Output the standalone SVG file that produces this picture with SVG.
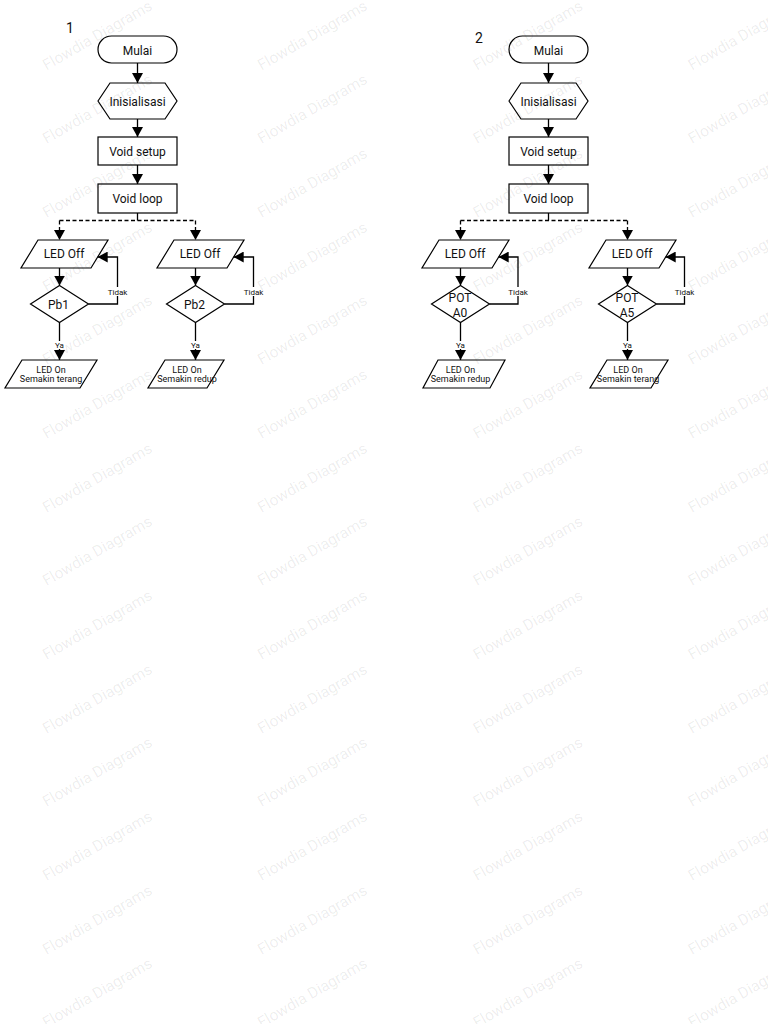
<svg xmlns="http://www.w3.org/2000/svg" width="768" height="1024" viewBox="0 0 768 1024">
<defs>
<style>
.s{fill:#fff;stroke:#000;stroke-width:1.2}
.c{fill:none;stroke:#000;stroke-width:1.3}
.d{stroke-dasharray:4 2.5}
.t{font-family:Roboto,"Liberation Sans",sans-serif;font-size:12px;fill:#111;text-anchor:middle}
.sm{font-size:9px}
.xs{font-size:8px}
.num{font-family:Roboto,"Liberation Sans",sans-serif;font-size:14px;fill:#111}
.lb{fill:#fff}
.wm{font-family:Roboto,"Liberation Sans",sans-serif;font-size:15.5px;fill:#000;fill-opacity:0.08;text-anchor:middle}
</style>
<marker id="ah" viewBox="0 0 10 11" refX="10" refY="5.5" markerWidth="10" markerHeight="11" markerUnits="userSpaceOnUse" orient="auto">
<path d="M0,0 L10,5.5 L0,11 z" fill="#000"/>
</marker>
</defs>
<rect width="768" height="1024" fill="#fff"/>

<text class="num" x="66" y="33">1</text>
<text class="num" x="475" y="43">2</text>

<!-- Diagram 1 nodes -->
<g id="d1-mulai"><rect class="s" x="98" y="36" width="79" height="27" rx="13.5"/><text class="t" x="137.5" y="54.5">Mulai</text></g>
<g id="d1-init"><polygon class="s" points="98,101 110,83 165,83 177,101 165,119 110,119"/><text class="t" x="137.5" y="106">Inisialisasi</text></g>
<g id="d1-setup"><rect class="s" x="98" y="137" width="79" height="28"/><text class="t" x="137.5" y="155.5">Void setup</text></g>
<g id="d1-loop"><rect class="s" x="98" y="184" width="79" height="29"/><text class="t" x="137.5" y="202.5">Void loop</text></g>
<g id="d1-ledoff1"><polygon class="s" points="38,240 108,240 91,268 21,268"/><text class="t" x="64" y="258.3">LED Off</text></g>
<g id="d1-pb1"><polygon class="s" points="59.5,285.5 88.5,304 59.5,322.5 30.5,304"/><text class="t" x="58.5" y="308.8">Pb1</text></g>
<g id="d1-ledon1"><polygon class="s" points="22,360 97,360 80,388 5,388"/><text class="t sm" x="51" y="372.5">LED On</text><text class="t sm" x="51" y="381.5">Semakin terang</text></g>
<g id="d1-ledoff2"><polygon class="s" points="174,240 244,240 227,268 157,268"/><text class="t" x="200" y="258.3">LED Off</text></g>
<g id="d1-pb2"><polygon class="s" points="195.5,285.5 224.5,304 195.5,322.5 166.5,304"/><text class="t" x="194.5" y="308.8">Pb2</text></g>
<g id="d1-ledon2"><polygon class="s" points="165,360 224,360 207,388 148,388"/><text class="t sm" x="187" y="372.5">LED On</text><text class="t sm" x="187" y="381.5">Semakin redup</text></g>

<!-- Diagram 2 nodes -->
<g id="d2-mulai"><rect class="s" x="509" y="36" width="79" height="27" rx="13.5"/><text class="t" x="548.5" y="54.5">Mulai</text></g>
<g id="d2-init"><polygon class="s" points="509,101 521,83 576,83 588,101 576,119 521,119"/><text class="t" x="548.5" y="106">Inisialisasi</text></g>
<g id="d2-setup"><rect class="s" x="509" y="137" width="79" height="28"/><text class="t" x="548.5" y="155.5">Void setup</text></g>
<g id="d2-loop"><rect class="s" x="509" y="184" width="79" height="29"/><text class="t" x="548.5" y="202.5">Void loop</text></g>
<g id="d2-ledoff1"><polygon class="s" points="439,240 509,240 492,268 422,268"/><text class="t" x="465" y="258.3">LED Off</text></g>
<g id="d2-pota0"><polygon class="s" points="460.5,285.5 489.5,304 460.5,322.5 431.5,304"/><text class="t" x="460" y="302">POT</text><text class="t" x="460" y="316.5">A0</text></g>
<g id="d2-ledon1"><polygon class="s" points="438,360 505,360 490,388 423,388"/><text class="t sm" x="460.5" y="372.5">LED On</text><text class="t sm" x="460.5" y="381.5">Semakin redup</text></g>
<g id="d2-ledoff2"><polygon class="s" points="606,240 676,240 659,268 589,268"/><text class="t" x="632" y="258.3">LED Off</text></g>
<g id="d2-pota5"><polygon class="s" points="627.5,285.5 656.5,304 627.5,322.5 598.5,304"/><text class="t" x="627" y="302">POT</text><text class="t" x="627" y="316.5">A5</text></g>
<g id="d2-ledon2"><polygon class="s" points="607,360 668,360 651,388 590,388"/><text class="t sm" x="628" y="372.5">LED On</text><text class="t sm" x="628" y="381.5">Semakin terang</text></g>

<!-- Connectors -->
<g id="connectors">
<path class="c" d="M137.5,63 V83" marker-end="url(#ah)"/>
<path class="c" d="M137.5,119 V137" marker-end="url(#ah)"/>
<path class="c" d="M137.5,165 V184" marker-end="url(#ah)"/>
<path class="c" d="M137.5,213 V220.5"/>
<path class="c d" d="M59.5,220.5 H195.5"/>
<path class="c d" d="M59.5,220.5 V240" marker-end="url(#ah)"/>
<path class="c d" d="M195.5,220.5 V240" marker-end="url(#ah)"/>
<path class="c" d="M59.5,268 V285.5" marker-end="url(#ah)"/>
<path class="c" d="M195.5,268 V285.5" marker-end="url(#ah)"/>
<path class="c" d="M88.5,304 H117.5 V257 H97.7" marker-end="url(#ah)"/>
<path class="c" d="M224.5,304 H253.5 V257 H233.7" marker-end="url(#ah)"/>
<path class="c" d="M59.5,322.5 V360" marker-end="url(#ah)"/>
<path class="c" d="M195.5,322.5 V360" marker-end="url(#ah)"/>

<path class="c" d="M548.5,63 V83" marker-end="url(#ah)"/>
<path class="c" d="M548.5,119 V137" marker-end="url(#ah)"/>
<path class="c" d="M548.5,165 V184" marker-end="url(#ah)"/>
<path class="c" d="M548.5,213 V220.5"/>
<path class="c d" d="M460.5,220.5 H627.5"/>
<path class="c d" d="M460.5,220.5 V240" marker-end="url(#ah)"/>
<path class="c d" d="M627.5,220.5 V240" marker-end="url(#ah)"/>
<path class="c" d="M460.5,268 V285.5" marker-end="url(#ah)"/>
<path class="c" d="M627.5,268 V285.5" marker-end="url(#ah)"/>
<path class="c" d="M489.5,304 H518 V257 H498.7" marker-end="url(#ah)"/>
<path class="c" d="M656.5,304 H684.5 V257 H665.7" marker-end="url(#ah)"/>
<path class="c" d="M460.5,322.5 V360" marker-end="url(#ah)"/>
<path class="c" d="M627.5,322.5 V360" marker-end="url(#ah)"/>

<rect class="lb" x="107" y="287" width="21" height="9"/><text class="t xs" x="117.5" y="294.5">Tidak</text>
<rect class="lb" x="243" y="287" width="21" height="9"/><text class="t xs" x="253.5" y="294.5">Tidak</text>
<rect class="lb" x="507.5" y="287" width="21" height="9"/><text class="t xs" x="518" y="294.5">Tidak</text>
<rect class="lb" x="674" y="287" width="21" height="9"/><text class="t xs" x="684.5" y="294.5">Tidak</text>
<rect class="lb" x="53.5" y="341" width="12" height="8"/><text class="t xs" x="59.5" y="347.5">Ya</text>
<rect class="lb" x="189.5" y="341" width="12" height="8"/><text class="t xs" x="195.5" y="347.5">Ya</text>
<rect class="lb" x="454.5" y="341" width="12" height="8"/><text class="t xs" x="460.5" y="347.5">Ya</text>
<rect class="lb" x="621.5" y="341" width="12" height="8"/><text class="t xs" x="627.5" y="347.5">Ya</text>
</g>

<!-- Watermark -->
<g id="watermark">
<text class="wm" transform="translate(97.5,35.5) rotate(-30)" y="5">Flowdia Diagrams</text>
<text class="wm" transform="translate(312.5,35.5) rotate(-30)" y="5">Flowdia Diagrams</text>
<text class="wm" transform="translate(528,35.5) rotate(-30)" y="5">Flowdia Diagrams</text>
<text class="wm" transform="translate(743,35.5) rotate(-30)" y="5">Flowdia Diagrams</text>
<text class="wm" transform="translate(97.5,109) rotate(-30)" y="5">Flowdia Diagrams</text>
<text class="wm" transform="translate(312.5,109) rotate(-30)" y="5">Flowdia Diagrams</text>
<text class="wm" transform="translate(528,109) rotate(-30)" y="5">Flowdia Diagrams</text>
<text class="wm" transform="translate(743,109) rotate(-30)" y="5">Flowdia Diagrams</text>
<text class="wm" transform="translate(97.5,183) rotate(-30)" y="5">Flowdia Diagrams</text>
<text class="wm" transform="translate(312.5,183) rotate(-30)" y="5">Flowdia Diagrams</text>
<text class="wm" transform="translate(528,183) rotate(-30)" y="5">Flowdia Diagrams</text>
<text class="wm" transform="translate(743,183) rotate(-30)" y="5">Flowdia Diagrams</text>
<text class="wm" transform="translate(97.5,257) rotate(-30)" y="5">Flowdia Diagrams</text>
<text class="wm" transform="translate(312.5,257) rotate(-30)" y="5">Flowdia Diagrams</text>
<text class="wm" transform="translate(528,257) rotate(-30)" y="5">Flowdia Diagrams</text>
<text class="wm" transform="translate(743,257) rotate(-30)" y="5">Flowdia Diagrams</text>
<text class="wm" transform="translate(97.5,330) rotate(-30)" y="5">Flowdia Diagrams</text>
<text class="wm" transform="translate(312.5,330) rotate(-30)" y="5">Flowdia Diagrams</text>
<text class="wm" transform="translate(528,330) rotate(-30)" y="5">Flowdia Diagrams</text>
<text class="wm" transform="translate(743,330) rotate(-30)" y="5">Flowdia Diagrams</text>
<text class="wm" transform="translate(97.5,404) rotate(-30)" y="5">Flowdia Diagrams</text>
<text class="wm" transform="translate(312.5,404) rotate(-30)" y="5">Flowdia Diagrams</text>
<text class="wm" transform="translate(528,404) rotate(-30)" y="5">Flowdia Diagrams</text>
<text class="wm" transform="translate(743,404) rotate(-30)" y="5">Flowdia Diagrams</text>
<text class="wm" transform="translate(97.5,478) rotate(-30)" y="5">Flowdia Diagrams</text>
<text class="wm" transform="translate(312.5,478) rotate(-30)" y="5">Flowdia Diagrams</text>
<text class="wm" transform="translate(528,478) rotate(-30)" y="5">Flowdia Diagrams</text>
<text class="wm" transform="translate(743,478) rotate(-30)" y="5">Flowdia Diagrams</text>
<text class="wm" transform="translate(97.5,551) rotate(-30)" y="5">Flowdia Diagrams</text>
<text class="wm" transform="translate(312.5,551) rotate(-30)" y="5">Flowdia Diagrams</text>
<text class="wm" transform="translate(528,551) rotate(-30)" y="5">Flowdia Diagrams</text>
<text class="wm" transform="translate(743,551) rotate(-30)" y="5">Flowdia Diagrams</text>
<text class="wm" transform="translate(97.5,625) rotate(-30)" y="5">Flowdia Diagrams</text>
<text class="wm" transform="translate(312.5,625) rotate(-30)" y="5">Flowdia Diagrams</text>
<text class="wm" transform="translate(528,625) rotate(-30)" y="5">Flowdia Diagrams</text>
<text class="wm" transform="translate(743,625) rotate(-30)" y="5">Flowdia Diagrams</text>
<text class="wm" transform="translate(97.5,699) rotate(-30)" y="5">Flowdia Diagrams</text>
<text class="wm" transform="translate(312.5,699) rotate(-30)" y="5">Flowdia Diagrams</text>
<text class="wm" transform="translate(528,699) rotate(-30)" y="5">Flowdia Diagrams</text>
<text class="wm" transform="translate(743,699) rotate(-30)" y="5">Flowdia Diagrams</text>
<text class="wm" transform="translate(97.5,772) rotate(-30)" y="5">Flowdia Diagrams</text>
<text class="wm" transform="translate(312.5,772) rotate(-30)" y="5">Flowdia Diagrams</text>
<text class="wm" transform="translate(528,772) rotate(-30)" y="5">Flowdia Diagrams</text>
<text class="wm" transform="translate(743,772) rotate(-30)" y="5">Flowdia Diagrams</text>
<text class="wm" transform="translate(97.5,846) rotate(-30)" y="5">Flowdia Diagrams</text>
<text class="wm" transform="translate(312.5,846) rotate(-30)" y="5">Flowdia Diagrams</text>
<text class="wm" transform="translate(528,846) rotate(-30)" y="5">Flowdia Diagrams</text>
<text class="wm" transform="translate(743,846) rotate(-30)" y="5">Flowdia Diagrams</text>
<text class="wm" transform="translate(97.5,920) rotate(-30)" y="5">Flowdia Diagrams</text>
<text class="wm" transform="translate(312.5,920) rotate(-30)" y="5">Flowdia Diagrams</text>
<text class="wm" transform="translate(528,920) rotate(-30)" y="5">Flowdia Diagrams</text>
<text class="wm" transform="translate(743,920) rotate(-30)" y="5">Flowdia Diagrams</text>
<text class="wm" transform="translate(97.5,993) rotate(-30)" y="5">Flowdia Diagrams</text>
<text class="wm" transform="translate(312.5,993) rotate(-30)" y="5">Flowdia Diagrams</text>
<text class="wm" transform="translate(528,993) rotate(-30)" y="5">Flowdia Diagrams</text>
<text class="wm" transform="translate(743,993) rotate(-30)" y="5">Flowdia Diagrams</text>
</g>
</svg>
